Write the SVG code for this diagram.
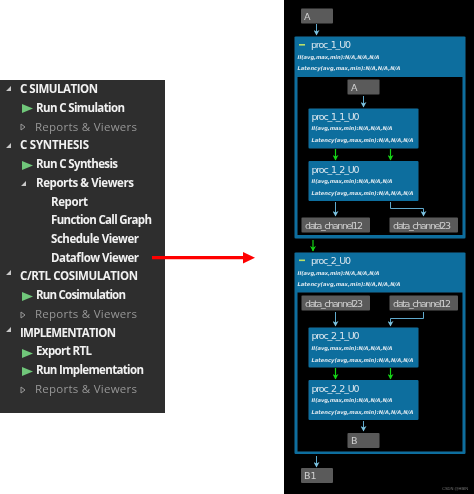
<svg xmlns="http://www.w3.org/2000/svg" width="474" height="494" viewBox="0 0 474 494">
<style>
.m{font-family:"Open Sans","Liberation Sans",sans-serif;font-size:11.5px;font-weight:700;fill:#f1f1f1}
.g{font-family:"Open Sans","Liberation Sans",sans-serif;font-size:11.5px;font-weight:400;fill:#969696}
.t{font-family:"DejaVu Sans","Liberation Sans",sans-serif;font-size:9.5px;fill:#d9e6ee}
.s{font-family:"DejaVu Sans","Liberation Sans",sans-serif;font-size:5.2px;font-style:italic;font-weight:700;fill:#d9e6ee}
.n{font-family:"DejaVu Sans","Liberation Sans",sans-serif;font-size:9.5px;fill:#d0d0d0}
.b{fill:#0f6e9e}
.d{fill:#5a5a5a}
.c{fill:none;stroke:#5fa9cc;stroke-width:1}
.k{fill:none;stroke:#14d414;stroke-width:1.2}
</style>
<defs>
<filter id="soft" x="0" y="0" width="100%" height="100%"><feGaussianBlur stdDeviation="0.35"/></filter>
<marker id="ab" markerWidth="6" markerHeight="7" refX="3" refY="6" orient="0" markerUnits="userSpaceOnUse"><path d="M0 1L3 2.500L6 1L3 6.500Z" fill="#7cc3e0"/></marker>
<marker id="ag" markerWidth="6" markerHeight="7" refX="3" refY="6" orient="0" markerUnits="userSpaceOnUse"><path d="M0 1L3 2.500L6 1L3 6.500Z" fill="#14d414"/></marker>
<path id="pl" d="M0 0L11 4.5L0 9Z" fill="#6fc77a"/>
</defs>
<rect width="474" height="494" fill="#fff"/>
<g filter="url(#soft)">
<g id="menu">
<rect x="0" y="80" width="165" height="333" fill="#2e2e2e"/>
<path d="M6 91L11 86V91Z M6 148L11 143V148Z M6 275L11 270V275Z M6 332L11 327V332Z M21 186L26 181V186Z" fill="#c8c8c8"/>
<path d="M21 124V130L25 127Z M21 312V318L25 315Z M21 387V393L25 390Z" fill="none" stroke="#9a9a9a"/>
<use href="#pl" x="22" y="104"/><use href="#pl" x="22" y="161"/><use href="#pl" x="22" y="292"/><use href="#pl" x="22" y="349"/><use href="#pl" x="22" y="367"/>
<text class="m" x="20" y="93" textLength="78">C SIMULATION</text>
<text class="m" x="36" y="112" textLength="89">Run C Simulation</text>
<text class="g" x="35" y="131" textLength="102">Reports &amp; Viewers</text>
<text class="m" x="20" y="149" textLength="69">C SYNTHESIS</text>
<text class="m" x="36" y="168" textLength="82">Run C Synthesis</text>
<text class="m" x="36" y="187" textLength="98">Reports &amp; Viewers</text>
<text class="m" x="51" y="206" textLength="37">Report</text>
<text class="m" x="51" y="224" textLength="101">Function Call Graph</text>
<text class="m" x="51" y="243" textLength="88">Schedule Viewer</text>
<text class="m" x="51" y="262" textLength="88">Dataflow Viewer</text>
<text class="m" x="20" y="280" textLength="118">C/RTL COSIMULATION</text>
<text class="m" x="36" y="299" textLength="90">Run Cosimulation</text>
<text class="g" x="35" y="318" textLength="102">Reports &amp; Viewers</text>
<text class="m" x="20" y="337" textLength="96">IMPLEMENTATION</text>
<text class="m" x="36" y="355" textLength="56">Export RTL</text>
<text class="m" x="36" y="374" textLength="108">Run Implementation</text>
<text class="g" x="35" y="393" textLength="102">Reports &amp; Viewers</text>
</g>
<rect x="284" y="0" width="190" height="494" fill="#000"/>
<g id="proc_1_U0">
<rect class="b" x="294.5" y="36.5" width="171" height="202" rx="1"/>
<rect x="297.5" y="77" width="165" height="158" fill="#000"/>
<rect x="299" y="44" width="6" height="1.6" fill="#b9e06a"/>
<text class="t" x="311" y="48" textLength="40">proc_1_U0</text>
<text class="s" x="297.500" y="59" textLength="82">II(avg,max,min):N/A,N/A,N/A</text>
<text class="s" x="297.500" y="70" textLength="103">Latency(avg,max,min):N/A,N/A,N/A</text>
</g>
<g id="proc_2_U0">
<rect class="b" x="294.5" y="252.5" width="171" height="201.5" rx="1"/>
<rect x="297.5" y="292.5" width="165" height="159" fill="#000"/>
<rect x="299" y="259.5" width="6" height="1.6" fill="#b9e06a"/>
<text class="t" x="311" y="263.5" textLength="40">proc_2_U0</text>
<text class="s" x="297.500" y="274.5" textLength="82">II(avg,max,min):N/A,N/A,N/A</text>
<text class="s" x="297.500" y="286" textLength="103">Latency(avg,max,min):N/A,N/A,N/A</text>
</g>
<g id="A_top"><rect class="d" x="301" y="8.5" width="32" height="15" rx="1"/><text class="n" x="304" y="19.5">A</text></g>
<g id="A_inner"><rect class="d" x="347.5" y="79.5" width="32" height="15" rx="1"/><text class="n" x="351" y="90.5">A</text></g>
<g id="proc_1_1_U0"><rect class="b" x="308.5" y="108.5" width="110" height="40" rx="1"/>
<text class="t" x="311.500" y="120" textLength="48">proc_1_1_U0</text>
<text class="s" x="311.500" y="130" textLength="81">II(avg,max,min):N/A,N/A,N/A</text>
<text class="s" x="311.500" y="142" textLength="102">Latency(avg,max,min):N/A,N/A,N/A</text></g>
<g id="proc_1_2_U0"><rect class="b" x="308.5" y="161" width="110" height="40" rx="1"/>
<text class="t" x="311.500" y="172.5" textLength="48">proc_1_2_U0</text>
<text class="s" x="311.500" y="183" textLength="81">II(avg,max,min):N/A,N/A,N/A</text>
<text class="s" x="311.500" y="195" textLength="102">Latency(avg,max,min):N/A,N/A,N/A</text></g>
<g id="data_channel12_a"><rect class="d" x="301.5" y="217.5" width="68.5" height="15" rx="1"/><text class="n" x="305" y="228.5" textLength="58">data_channel12</text></g>
<g id="data_channel23_a"><rect class="d" x="389.5" y="217.5" width="68.5" height="15" rx="1"/><text class="n" x="393" y="228.5" textLength="58">data_channel23</text></g>
<g id="data_channel23_b"><rect class="d" x="301.5" y="295.5" width="68.5" height="15" rx="1"/><text class="n" x="305" y="306.5" textLength="58">data_channel23</text></g>
<g id="data_channel12_b"><rect class="d" x="389.5" y="295.5" width="68.5" height="15" rx="1"/><text class="n" x="393" y="306.5" textLength="58">data_channel12</text></g>
<g id="proc_2_1_U0"><rect class="b" x="308.5" y="327.5" width="110" height="40" rx="1"/>
<text class="t" x="311.500" y="339" textLength="48">proc_2_1_U0</text>
<text class="s" x="311.500" y="349.5" textLength="81">II(avg,max,min):N/A,N/A,N/A</text>
<text class="s" x="311.500" y="361.5" textLength="102">Latency(avg,max,min):N/A,N/A,N/A</text></g>
<g id="proc_2_2_U0"><rect class="b" x="308.5" y="380" width="110" height="40" rx="1"/>
<text class="t" x="311.500" y="391.5" textLength="48">proc_2_2_U0</text>
<text class="s" x="311.500" y="402" textLength="81">II(avg,max,min):N/A,N/A,N/A</text>
<text class="s" x="311.500" y="414" textLength="102">Latency(avg,max,min):N/A,N/A,N/A</text></g>
<g id="B_inner"><rect class="d" x="347.5" y="433" width="32" height="15" rx="1"/><text class="n" x="351" y="444">B</text></g>
<g id="B1"><rect class="d" x="301" y="468" width="32" height="15" rx="1"/><text class="n" x="304" y="479">B1</text></g>
<g id="connectors">
<path class="c" marker-end="url(#ab)" d="M316.5 24V35"/>
<path class="c" marker-end="url(#ab)" d="M363.5 96V107"/>
<path class="k" marker-end="url(#ag)" d="M335.5 149V160"/>
<path class="k" marker-end="url(#ag)" d="M390.5 149V160"/>
<path class="c" marker-end="url(#ab)" d="M335.5 202V216"/>
<path class="c" marker-end="url(#ab)" d="M390.5 202V208.500H423.500V216"/>
<path class="k" marker-end="url(#ag)" d="M313 240V251"/>
<path class="c" marker-end="url(#ab)" d="M335.5 312V326"/>
<path class="c" marker-end="url(#ab)" d="M423.5 312V318.500H390.500V326"/>
<path class="k" marker-end="url(#ag)" d="M335.5 368V379"/>
<path class="k" marker-end="url(#ag)" d="M390.5 368V379"/>
<path class="c" marker-end="url(#ab)" d="M363.5 421V431"/>
<path class="c" marker-end="url(#ab)" d="M316.5 456V467"/>
<path fill="none" stroke="#f00" stroke-width="3.3" d="M152 257.700H244"/>
<path d="M243 252L255 257.700L243 263.500Z" fill="#f00"/>
</g>
<text x="442" y="490" font-family="Liberation Sans,sans-serif" font-size="4px" fill="#777">CSDN @HBIN</text>
</g>
</svg>
